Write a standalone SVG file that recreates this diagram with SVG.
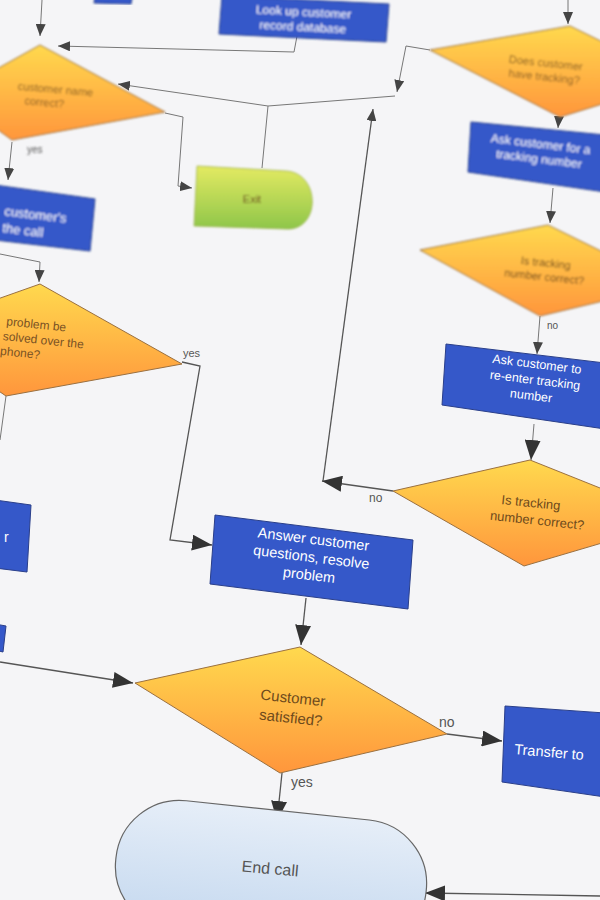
<svg xmlns="http://www.w3.org/2000/svg" width="600" height="900" viewBox="0 0 600 900">
<defs>
<linearGradient id="og" x1="0" y1="0" x2="0" y2="1"><stop offset="0" stop-color="#ffd94e"/><stop offset="1" stop-color="#ff963c"/></linearGradient>
<linearGradient id="gg" x1="0" y1="0" x2="0" y2="1"><stop offset="0" stop-color="#e4ea62"/><stop offset="1" stop-color="#8ec64a"/></linearGradient>
<linearGradient id="bg2" x1="0" y1="0" x2="0" y2="1"><stop offset="0" stop-color="#e6eef8"/><stop offset="1" stop-color="#c4d8ef"/></linearGradient>
<marker id="aL" markerUnits="userSpaceOnUse" markerWidth="20" markerHeight="16" refX="20" refY="8" orient="auto"><path d="M0,0 L20,8 L0,16 Z" fill="#333"/></marker>
<marker id="aS" markerUnits="userSpaceOnUse" markerWidth="12" markerHeight="10" refX="12" refY="5" orient="auto"><path d="M0,0 L12,5 L0,10 Z" fill="#444"/></marker>
<filter id="blur"><feGaussianBlur stdDeviation="1.2"/></filter>
<style>
.bx{fill:#3558c9;stroke:#2a3f8a;stroke-width:1}
.dm{fill:url(#og);stroke:#9a7040;stroke-width:1}
.ln{fill:none;stroke:#555;stroke-width:1.3}
.lnS{fill:none;stroke:#777;stroke-width:1}
.wt{font-family:"Liberation Sans",Arial,sans-serif;fill:#fff;text-anchor:middle}
.ws{font-family:"Liberation Sans",Arial,sans-serif;fill:#fff;text-anchor:start}
.dt{font-family:"Liberation Sans",Arial,sans-serif;fill:#6e4a1c;text-anchor:middle}
.ds{font-family:"Liberation Sans",Arial,sans-serif;fill:#7a5224;text-anchor:start}
.lb{font-family:"Liberation Sans",Arial,sans-serif;fill:#555}
</style>
</defs>
<rect width="600" height="900" fill="#f5f5f7"/>

<g id="connectors">
<path class="lnS" d="M42,0 L40,36" marker-end="url(#aS)"/>
<path class="lnS" d="M297,36 L294,52 L58,46" marker-end="url(#aS)"/>
<path class="lnS" d="M430,50 L406,46 L397,92" marker-end="url(#aS)"/>
<path class="lnS" d="M395,96 L268,106 L118,84" marker-end="url(#aS)"/>
<path class="lnS" d="M268,106 L262,168"/>
<path class="lnS" d="M165,113 L183,117 L178,186 L192,188" marker-end="url(#aS)"/>
<path class="lnS" d="M12,142 L8,180" marker-end="url(#aS)"/>
<path class="lnS" d="M0,254 L40,262 L39,282" marker-end="url(#aS)"/>
<path class="ln" d="M182,362 L200,366 L170,540 L212,545" marker-end="url(#aL)"/>
<path class="lnS" d="M6,396 L0,440"/>
<path class="ln" d="M306,598 L301,645" marker-end="url(#aL)"/>
<path class="ln" d="M0,662 L133,683" marker-end="url(#aL)"/>
<path class="ln" d="M447,734 L502,741" marker-end="url(#aL)"/>
<path class="ln" d="M282,773 L277,821" marker-end="url(#aL)"/>
<path class="ln" d="M600,896 L425,893" marker-end="url(#aL)"/>
<path class="ln" d="M393,491 L322,481" marker-end="url(#aL)"/>
<path class="ln" d="M323,481 L373,109" marker-end="url(#aS)"/>
<path class="lnS" d="M568,0 L568,24" marker-end="url(#aS)"/>
<path class="lnS" d="M559,116 L558,128" marker-end="url(#aS)"/>
<path class="lnS" d="M553,188 L550,223" marker-end="url(#aS)"/>
<path class="lnS" d="M540,316 L537,354" marker-end="url(#aS)"/>
<path class="lnS" d="M534,424 L531,460" marker-end="url(#aL)"/>
</g>

<g id="labels">
<text class="lb" x="27" y="153" font-size="10" fill="#999" filter="url(#blur)">yes</text>
<text class="lb" x="183" y="357" font-size="11" fill="#888">yes</text>
<text class="lb" x="547" y="329" font-size="10" fill="#888">no</text>
<text class="lb" x="369" y="502" font-size="12" fill="#777">no</text>
<text class="lb" x="439" y="727" font-size="14">no</text>
<text class="lb" x="291" y="787" font-size="14">yes</text>
</g>

<g id="n-topleft-box" filter="url(#blur)">
<polygon class="bx" points="95,-4 132,-2 131,4 94,3"/>
</g>

<g id="n-top-box" filter="url(#blur)">
<polygon class="bx" points="222,-4 389,4 386,42 219,34"/>
<text class="wt" font-size="12" transform="rotate(3,303,22)"><tspan x="303" y="16">Look up customer</tspan><tspan x="303" y="31">record database</tspan></text>
</g>

<g id="n-diamond-tl" filter="url(#blur)">
<polygon class="dm" points="-50,95 40,45 165,112 12,140"/>
<text class="dt" font-size="11" transform="rotate(5,55,95)" opacity="0.8"><tspan x="55" y="93">customer name</tspan><tspan x="45" y="107">correct?</tspan></text>
</g>

<g id="n-exit" filter="url(#blur)">
<path d="M197,166 L286,171 C321,173 321,231 286,229 L194,226 Z" fill="url(#gg)" stroke="#9ab04a" stroke-width="0.8"/>
<text class="dt" x="252" y="203" font-size="11" fill="#6a7a30">Exit</text>
</g>

<g id="n-left-box1" filter="url(#blur)">
<polygon class="bx" points="-5,185 95,199 90,251 -5,240"/>
<text class="ws" font-size="13" transform="rotate(7,2,215)"><tspan x="4" y="215">customer's</tspan><tspan x="4" y="232">the call</tspan></text>
</g>

<g id="n-diamond-left">
<polygon class="dm" points="-90,330 40,284 182,364 6,396"/>
<text class="ds" font-size="12" transform="rotate(6,4,325)"><tspan x="6" y="325">problem be</tspan><tspan x="4" y="340">solved over the</tspan><tspan x="3" y="355">phone?</tspan></text>
</g>

<g id="n-left-box2">
<polygon class="bx" points="-5,500 31,505 27,572 -5,568"/>
<text class="ws" x="4" y="542" font-size="14">r</text>
</g>

<g id="n-left-box3">
<polygon class="bx" points="-5,624 6,626 3,652 -5,650"/>
</g>

<g id="n-answer">
<polygon class="bx" points="215,515 413,540 408,609 210,584"/>
<text class="wt" font-size="14.5" transform="rotate(7,311,560)"><tspan x="311" y="544">Answer customer</tspan><tspan x="311" y="562">questions, resolve</tspan><tspan x="311" y="580">problem</tspan></text>
</g>

<g id="n-satisfied">
<polygon class="dm" points="135,683 300,647 447,734 280,773"/>
<text class="dt" font-size="15" transform="rotate(6,292,707)"><tspan x="292" y="703">Customer</tspan><tspan x="292" y="723">satisfied?</tspan></text>
</g>

<g id="n-transfer">
<polygon class="bx" points="505,706 605,713 605,797 502,782"/>
<text class="ws" x="514" y="754" font-size="14.5" transform="rotate(5,514,754)">Transfer to</text>
</g>

<g id="n-endcall">
<rect x="115" y="810" width="312" height="130" rx="64" fill="url(#bg2)" stroke="#666" stroke-width="1.2" transform="rotate(6,271,875)"/>
<text x="270" y="874" font-size="16" font-family="Liberation Sans,Arial,sans-serif" fill="#555" text-anchor="middle" transform="rotate(5,270,870)">End call</text>
</g>

<g id="n-diamond-tr" filter="url(#blur)">
<polygon class="dm" points="430,50 570,26 680,80 560,117"/>
<text class="dt" font-size="11" transform="rotate(6,540,70)" opacity="0.8"><tspan x="545" y="66">Does customer</tspan><tspan x="545" y="80">have tracking?</tspan></text>
</g>

<g id="n-ask-tracking" filter="url(#blur)">
<polygon class="bx" points="471,122 605,135 605,192 468,172"/>
<text class="wt" font-size="12" transform="rotate(7,540,150)"><tspan x="540" y="148">Ask customer for a</tspan><tspan x="540" y="163">tracking number</tspan></text>
</g>

<g id="n-diamond-r1" filter="url(#blur)">
<polygon class="dm" points="420,250 548,225 670,285 540,316"/>
<text class="dt" font-size="11" transform="rotate(6,540,270)"><tspan x="545" y="266">Is tracking</tspan><tspan x="545" y="280">number correct?</tspan></text>
</g>

<g id="n-reenter">
<polygon class="bx" points="446,344 605,363 605,429 442,405"/>
<text class="wt" font-size="12.5" transform="rotate(7,525,380)"><tspan x="535" y="367">Ask customer to</tspan><tspan x="535" y="383">re-enter tracking</tspan><tspan x="533" y="399">number</tspan></text>
</g>

<g id="n-diamond-r2">
<polygon class="dm" points="393,491 530,460 680,520 524,566"/>
<text class="dt" font-size="13" transform="rotate(6,530,512)"><tspan x="530" y="507">Is tracking</tspan><tspan x="538" y="524">number correct?</tspan></text>
</g>
</svg>
